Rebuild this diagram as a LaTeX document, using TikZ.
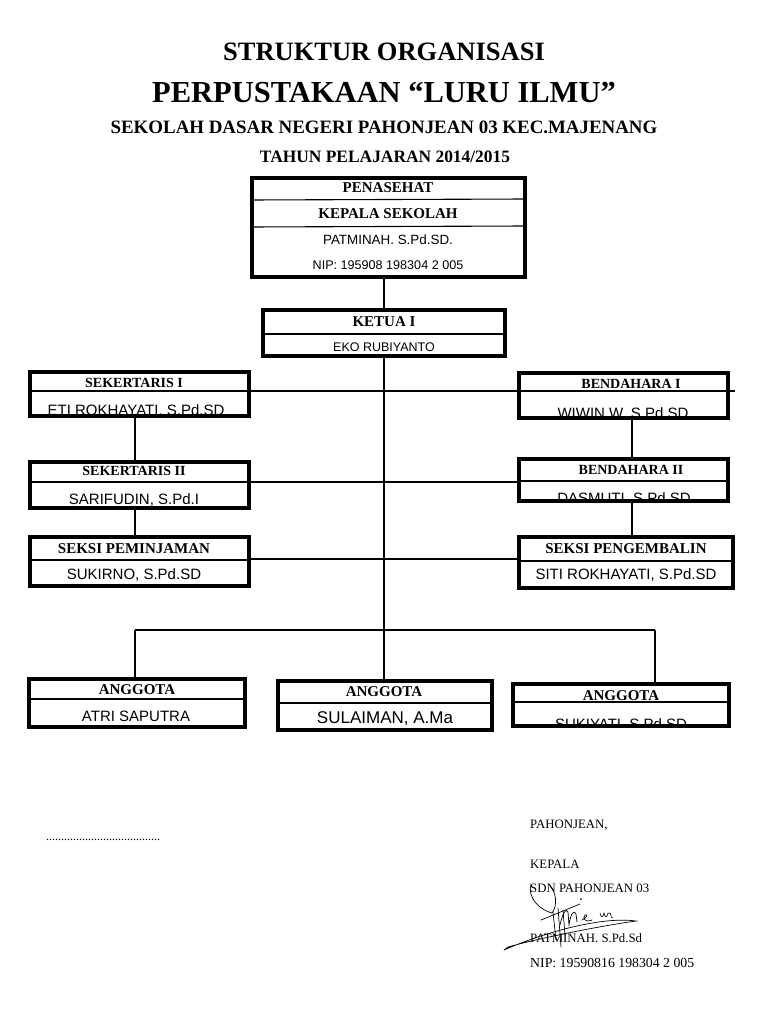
\documentclass[tikz,border=0pt]{standalone}
\usepackage{fontspec}
\setmainfont{Liberation Serif}
\setsansfont{Liberation Sans}
\usetikzlibrary{positioning}

\tikzset{
  jabatan/.style={draw, line width=3.6pt, rectangle, inner sep=0pt},
  sekat/.style={line width=1.1pt},
  garis/.style={line width=1.6pt},
  judul/.style={font=\bfseries\fontsize{15}{15}\selectfont, inner sep=0pt},
  nama/.style={font=\sffamily\fontsize{15}{15}\selectfont, inner sep=0pt},
  potong/.style={nama, anchor=base},
  ttd/.style={font=\fontsize{12.8}{12.8}\selectfont, inner sep=0pt, anchor=west},
  coret/.style={line width=0.7pt, line cap=round},
}

\begin{document}
\begin{tikzpicture}[x=1pt, y=-1pt]
    \useasboundingbox (0,0) rectangle (768,1024);

    % kop
    \node[inner sep=0pt, font=\bfseries\fontsize{26.5}{26.5}\selectfont] (kop1) at (384,52) {STRUKTUR ORGANISASI};
    \node[inner sep=0pt, font=\bfseries\fontsize{30.5}{30.5}\selectfont] (kop2) at (384,93) {PERPUSTAKAAN “LURU ILMU”};
    \node[inner sep=0pt, font=\bfseries\fontsize{18.9}{18.9}\selectfont] (kop3) at (384,127) {SEKOLAH DASAR NEGERI PAHONJEAN 03 KEC.MAJENANG};
    \node[inner sep=0pt, font=\bfseries\fontsize{17.4}{17.4}\selectfont] (kop4) at (385,157) {TAHUN PELAJARAN 2014/2015};

    % kotak jabatan
    \node[jabatan, minimum width=273, minimum height=99] (penasehat) at (388.5,227.5) {};
    \node[jabatan, minimum width=242, minimum height=46] (ketua) at (384,333) {};
    \node[jabatan, minimum width=219, minimum height=44] (sek1) at (139.5,394) {};
    \node[jabatan, minimum width=209, minimum height=45] (ben1) at (623.5,395.5) {};
    \node[jabatan, minimum width=219, minimum height=46] (sek2) at (139.5,485) {};
    \node[jabatan, minimum width=209, minimum height=42] (ben2) at (623.5,480) {};
    \node[jabatan, minimum width=219, minimum height=49] (pinjam) at (139.5,561.5) {};
    \node[jabatan, minimum width=214, minimum height=51] (kembali) at (626,562.5) {};
    \node[jabatan, minimum width=216, minimum height=48] (ang1) at (137,703) {};
    \node[jabatan, minimum width=214, minimum height=49] (ang2) at (385,705.5) {};
    \node[jabatan, minimum width=216, minimum height=42] (ang3) at (621,705) {};

    % sekat dalam kotak
    \draw[sekat] (penasehat.west |- 0,200) -- (penasehat.east |- 0,199);
    \draw[sekat] (penasehat.west |- 0,227) -- (penasehat.east |- 0,226);
    \draw[sekat] (ketua.west |- 0,334) -- (ketua.east |- 0,334);
    \draw[sekat] (sek2.west |- 0,482) -- (sek2.east |- 0,482);
    \draw[sekat] (ben2.west |- 0,481) -- (ben2.east |- 0,481);
    \draw[sekat] (pinjam.west |- 0,560) -- (pinjam.east |- 0,560);
    \draw[sekat] (kembali.west |- 0,561) -- (kembali.east |- 0,561);
    \draw[sekat] (sek1.west |- 0,391) -- (sek1.east |- 0,391);
    \draw[sekat] (ang1.west |- 0,699) -- (ang1.east |- 0,699);
    \draw[sekat] (ang2.west |- 0,703) -- (ang2.east |- 0,703);
    \draw[sekat] (ang3.west |- 0,702) -- (ang3.east |- 0,702);

    % isi kotak
    \node[judul] (t-penasehat) at (388,188) {PENASEHAT};
    \node[judul] (t-kepsek) at (388,214) {KEPALA SEKOLAH};
    \node[nama, font=\sffamily\fontsize{13.4}{13.4}\selectfont] (n-kepsek) at (388,240) {PATMINAH. S.Pd.SD.};
    \node[nama, font=\sffamily\fontsize{12.6}{12.6}\selectfont] (nip-kepsek) at (388,265) {NIP: 195908 198304 2 005};
    \node[judul] (t-ketua) at (384,322) {KETUA I};
    \node[nama, font=\sffamily\fontsize{12.5}{12.5}\selectfont] (n-ketua) at (384,347) {EKO RUBIYANTO};
    \node[judul, font=\bfseries\fontsize{14}{14}\selectfont] (t-sek1) at (134,383) {SEKERTARIS I};
    \node[judul, font=\bfseries\fontsize{14}{14}\selectfont] (t-ben1) at (631,384) {BENDAHARA I};
    \node[judul, font=\bfseries\fontsize{14}{14}\selectfont] (t-sek2) at (134,471) {SEKERTARIS II};
    \node[judul, font=\bfseries\fontsize{14}{14}\selectfont] (t-ben2) at (631,470) {BENDAHARA II};
    \node[judul] (t-pinjam) at (134,549) {SEKSI PEMINJAMAN};
    \node[nama] (n-pinjam) at (134,575) {SUKIRNO, S.Pd.SD};
    \node[judul] (t-kembali) at (626,549) {SEKSI PENGEMBALIN};
    \node[nama] (n-kembali) at (626,575) {SITI ROKHAYATI, S.Pd.SD};
    \node[judul] (t-ang1) at (137,690) {ANGGOTA};
    \node[nama] (n-ang1) at (136,716) {ATRI SAPUTRA};
    \node[judul] (t-ang2) at (384,692) {ANGGOTA};
    \node[nama, font=\sffamily\fontsize{17}{17}\selectfont] (n-ang2) at (385,719) {SULAIMAN, A.Ma};
    \node[judul] (t-ang3) at (621,696) {ANGGOTA};

    % nama yang terpotong kotak
    \begin{scope}
      \clip (sek1.south west) rectangle (sek1.north east);
      \node[potong] (n-sek1) at (136,415) {ETI ROKHAYATI, S.Pd.SD};
    \end{scope}
    \begin{scope}
      \clip (ben1.south west) rectangle (ben1.north east);
      \node[potong] (n-ben1) at (623,418) {WIWIN W. S.Pd.SD};
    \end{scope}
    \begin{scope}
      \clip (sek2.south west) rectangle (sek2.north east);
      \node[potong] (n-sek2) at (134,504) {SARIFUDIN, S.Pd.I};
    \end{scope}
    \begin{scope}
      \clip (ben2.south west) rectangle (ben2.north east);
      \node[potong] (n-ben2) at (624,503) {DASMUTI, S.Pd.SD};
    \end{scope}
    \begin{scope}
      \clip (ang3.south west) rectangle (ang3.north east);
      \node[potong] (n-ang3) at (621,729) {SUKIYATI, S.Pd.SD};
    \end{scope}

    % garis hubung
    \coordinate (simpang) at (384,630);
    \coordinate (kiri) at (135,630);
    \coordinate (kanan) at (655,630);
    \coordinate (ujung1) at (735,391);
    \draw[garis] (penasehat.south -| ketua.north) -- (ketua.north);
    \draw[garis] (ketua.south) -- (simpang);
    \draw[garis] (kiri) -- (kanan);
    \draw[garis] (simpang) -- (ang2.north -| simpang);
    \draw[garis] (kiri) -- (ang1.north -| kiri);
    \draw[garis] (kanan) -- (ang3.north -| kanan);
    \draw[sekat, line width=1.3pt] (sek1.east |- ujung1) -- (ujung1);
    \draw[sekat, line width=1.3pt] (sek2.east |- 0,482) -- (ben2.west |- 0,482);
    \draw[sekat, line width=1.3pt] (pinjam.east |- 0,559) -- (kembali.west |- 0,559);
    \draw[sekat, line width=1.3pt] (sek1.south -| kiri) -- (sek2.north -| kiri);
    \draw[sekat, line width=1.3pt] (sek2.south -| kiri) -- (pinjam.north -| kiri);
    \draw[sekat, line width=1.3pt] (ben1.south -| 632,0) -- (ben2.north -| 632,0);
    \draw[sekat, line width=1.3pt] (ben2.south -| 632,0) -- (kembali.north -| 632,0);

    % tanda tangan
    \node[font=\fontsize{12}{12}\selectfont, inner sep=0pt, anchor=west] (titik) at (46,840) {......................................};
    \node[ttd] (tempat) at (530,825) {PAHONJEAN,};
    \node[ttd] (kepala) at (530,864) {KEPALA};
    \node[ttd] (sdn) at (530,888) {SDN PAHONJEAN 03};
    \node[ttd] (ttd-nama) at (530,938) {PATMINAH. S.Pd.Sd};
    \node[ttd, font=\fontsize{13.8}{13.8}\selectfont] (ttd-nip) at (530,963) {NIP: 19590816 198304 2 005};

    \draw[coret] (504,950) .. controls (540,934) and (600,916) .. (636,921)
        .. controls (600,926) and (540,938) .. (508,947) -- (504,950);
    \draw[coret] (531,884) .. controls (527,898) and (540,910) .. (552,913)
        .. controls (558,905) and (556,892) .. (550,886);
    \draw[coret] (541,920) -- (580,904);
    \fill (581,899) circle (1);
    \draw[coret] (553,912) -- (556,940);
    \draw[coret] (558,908) -- (561,947);
    \draw[coret] (563,910) -- (565,935);
    \draw[coret] (560,925) .. controls (563,912) and (566,908) .. (568,912) -- (569,925)
        .. controls (571,912) and (574,910) .. (576,914) -- (577,922);
    \draw[coret] (582,920) .. controls (588,917) and (588,914) .. (585,915)
        .. controls (582,918) and (585,923) .. (592,920);
    \draw[line width=0.6pt] (600,913) .. controls (601,918) and (603,918) .. (604,913)
        .. controls (605,918) and (607,918) .. (608,913) .. controls (613,912) and (609,918) .. (613,918);
\end{tikzpicture}
\end{document}
